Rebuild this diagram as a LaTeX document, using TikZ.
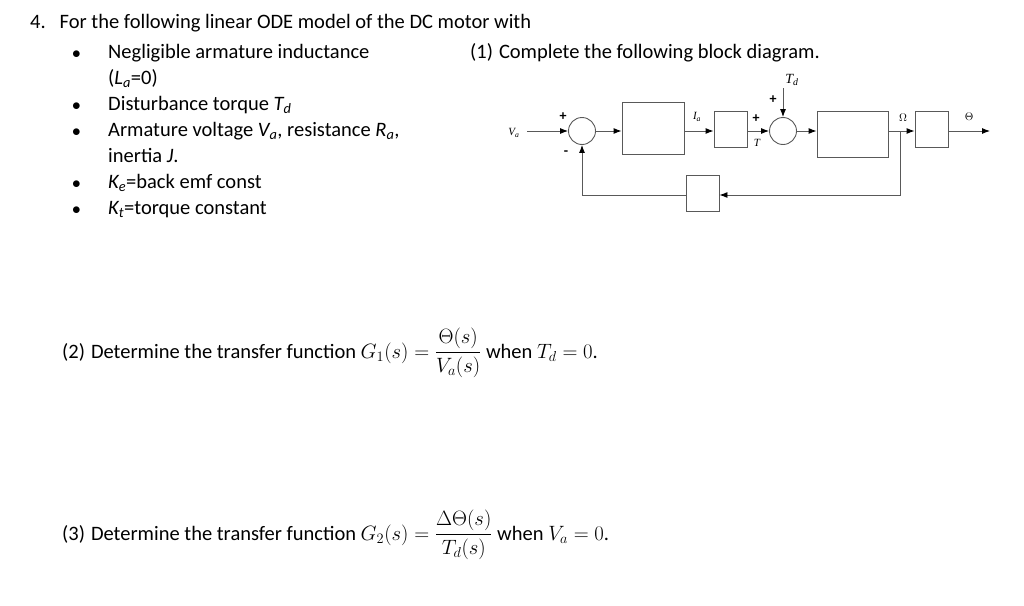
\documentclass[tikz,border=0pt]{standalone}
\usepackage{amsmath}
\usepackage{fontspec}
\setmainfont{Carlito}
\newfontfamily\tm{Liberation Serif}
\usetikzlibrary{arrows.meta}
\begin{document}
\begin{tikzpicture}[x=1pt,y=-1pt,
  txt/.style={anchor=base west,inner sep=0pt,font=\fontsize{20.5}{24}\selectfont},
  blk/.style={draw,gray!70!black,line width=0.9pt},
  sm/.style={draw,gray!70!black,line width=0.9pt,circle,minimum size=27pt,inner sep=0pt},
  sig/.style={draw,gray!70!black,line width=0.9pt,-{Latex[length=8pt,width=6pt,black]}},
  lab/.style={inner sep=0pt,font=\tm\itshape\fontsize{11}{12}\selectfont},
  pm/.style={inner sep=0pt,font=\bfseries\fontsize{14}{14}\selectfont}]
\useasboundingbox (0,0) rectangle (1024,605);
\node[txt] (t0) at (30,28) {4.\hspace{14pt}For the following linear ODE model of the DC motor with};
\foreach \y/\s [count=\i] in {58/{Negligible armature inductance},84/{(\textit{L\textsubscript{a}}=0)},110/{Disturbance torque \textit{T\textsubscript{d}}},136/{Armature voltage \textit{V\textsubscript{a}}, resistance \textit{R\textsubscript{a}},},162/{inertia \textit{J}.},188/{\textit{K\textsubscript{e}}=back emf const},214/{\textit{K\textsubscript{t}}=torque constant}}
  \node[txt] (l\i) at (108,\y) {\s};
\foreach \y [count=\i] in {58,110,136,188,214}
  \node[txt,font=\fontsize{17}{20}\selectfont] (b\i) at (72,\y) {$\bullet$};
\node[txt] (q1) at (470,58) {(1)\hspace{6pt}Complete the following block diagram.};
% diagram
\node[sm] (s1) at (582,131) {};
\node[sm] (s2) at (783,131) {};
\node[blk,minimum width=62pt,minimum height=52pt] (B1) at (653,128) {};
\node[blk,minimum width=33pt,minimum height=36pt] (B2) at (730.5,129) {};
\node[blk,minimum width=71pt,minimum height=46pt] (B3) at (852.5,134) {};
\node[blk,minimum width=33pt,minimum height=36pt] (B4) at (931.5,129) {};
\node[blk,minimum width=33pt,minimum height=36pt] (B5) at (702.5,193) {};
\coordinate (vin) at (527,131);
\coordinate (td) at (783,88);
\coordinate (out) at (990,131);
\coordinate (br) at (900,131);
\coordinate (fbR) at (900,195);
\coordinate (fbL) at (582,195);
\draw[sig] (vin) -- (s1.west);
\draw[sig] (s1.east) -- (B1.west |- s1);
\draw[sig] (B1.east |- s1) -- (B2.west |- s1);
\draw[sig] (B2.east |- s1) -- (s2.west);
\draw[sig] (td) -- (s2.north);
\draw[sig] (s2.east) -- (B3.west |- s2);
\draw[sig] (B3.east |- s2) -- (B4.west |- s2);
\draw[sig] (B4.east |- s2) -- (out);
\draw[sig] (br) -- (fbR) -- (B5.east |- fbR);
\draw[sig] (B5.west |- fbL) -- (fbL) -- (s1.south);
\node[lab] (Va) at (514,133) {V\textsubscript{a}};
\node[lab] (Ia) at (697,117) {I\textsubscript{a}};
\node[lab] (T) at (757,143) {T};
\node[lab,font=\tm\itshape\fontsize{14}{14}\selectfont] (Td) at (792,80) {T\textsubscript{d}};
\node[lab,font=\tm\fontsize{11}{12}\selectfont] (Om) at (903,118) {$\Omega$};
\node[lab,font=\tm\fontsize{11}{12}\selectfont] (Th) at (969,117) {$\Theta$};
\node[pm] (p1) at (563,117) {+};
\node[pm] (m1) at (566,153) {-};
\node[pm] (p2) at (756,119) {+};
\node[pm] (p3) at (773,100) {+};
% questions
\node[txt] (q2) at (62,358) {(2)\hspace{6pt}Determine the transfer function $G_1(s)=\dfrac{\Theta(s)}{V_a(s)}$ when $T_d=0$.};
\node[txt] (q3) at (62,540) {(3)\hspace{6pt}Determine the transfer function $G_2(s)=\dfrac{\Delta\Theta(s)}{T_d(s)}$ when $V_a=0$.};
\end{tikzpicture}
\end{document}
